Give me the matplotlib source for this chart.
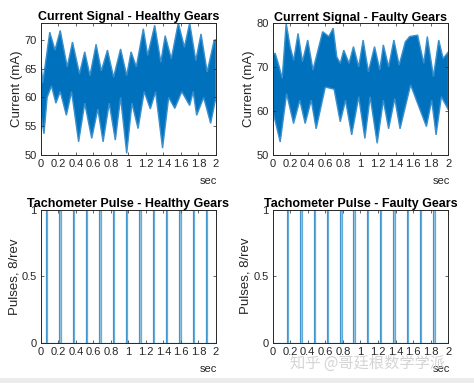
import numpy as np
import matplotlib
matplotlib.use("Agg")
import matplotlib.pyplot as plt
from matplotlib.patches import Rectangle

plt.rcParams['font.family'] = ['Liberation Sans', 'DejaVu Sans']

# Current signal envelopes (time in s, current in mA)
healthy_up_t = [0.0, 0.02, 0.10, 0.16, 0.22, 0.30, 0.36, 0.44, 0.50, 0.56, 0.63, 0.69,
                0.76, 0.83, 0.91, 0.98, 1.03, 1.09, 1.17, 1.22, 1.30, 1.37, 1.42, 1.49,
                1.57, 1.64, 1.70, 1.77, 1.83, 1.90, 1.98, 2.0]
healthy_up = [66.0, 62.5, 71.3, 68.2, 71.6, 65.3, 69.6, 64.1, 67.9, 63.8, 69.2, 64.6,
              68.2, 63.5, 68.4, 63.8, 67.9, 65.3, 71.9, 67.3, 72.5, 66.1, 70.7, 66.7,
              72.9, 68.7, 72.9, 66.4, 71.0, 64.4, 69.9, 70.0]
healthy_lo_t = [0.0, 0.034, 0.07, 0.12, 0.17, 0.22, 0.29, 0.35, 0.43, 0.50, 0.58, 0.65,
                0.71, 0.78, 0.85, 0.91, 0.98, 1.04, 1.11, 1.18, 1.25, 1.31, 1.39, 1.46,
                1.53, 1.61, 1.70, 1.74, 1.78, 1.86, 1.94, 2.0]
healthy_lo = [57.0, 53.7, 60.0, 62.0, 59.0, 61.0, 56.9, 61.0, 52.3, 59.0, 52.9, 58.0,
              52.3, 59.0, 52.6, 60.0, 50.3, 59.0, 54.6, 61.0, 58.0, 61.0, 51.2, 60.0,
              58.1, 61.0, 58.6, 61.0, 56.9, 60.0, 55.5, 60.0]

faulty_up_t = [0.0, 0.03, 0.07, 0.11, 0.155, 0.20, 0.24, 0.29, 0.34, 0.40, 0.46, 0.57,
               0.64, 0.69, 0.73, 0.77, 0.81, 0.87, 0.92, 0.98, 1.03, 1.09, 1.16, 1.22,
               1.26, 1.32, 1.38, 1.44, 1.51, 1.56, 1.65, 1.72, 1.76, 1.83, 1.89, 1.94, 2.0]
faulty_up = [72.8, 73.2, 70.5, 67.5, 80.0, 74.7, 71.6, 77.7, 71.3, 76.2, 69.4, 78.1,
             77.0, 78.9, 72.4, 70.9, 73.9, 70.9, 74.7, 70.1, 76.2, 69.0, 74.7, 69.4,
             75.1, 70.1, 76.2, 70.5, 75.8, 77.0, 77.3, 70.9, 77.0, 67.9, 76.2, 72.0, 73.5]
faulty_lo_t = [0.0, 0.087, 0.16, 0.239, 0.31, 0.371, 0.44, 0.496, 0.60, 0.70, 0.77, 0.83,
               0.90, 0.98, 1.05, 1.11, 1.19, 1.26, 1.32, 1.39, 1.45, 1.57, 1.75, 1.81,
               1.86, 1.92, 2.0]
faulty_lo = [60.3, 53.0, 64.0, 57.2, 62.5, 57.2, 62.5, 56.0, 65.5, 65.0, 57.6, 62.5,
             54.6, 63.3, 53.8, 63.3, 52.7, 62.5, 56.0, 62.9, 56.0, 66.0, 56.5, 62.5,
             54.6, 63.3, 60.3]

# Tachometer pulse start times (s)
healthy_pulses = [0.057, 0.209, 0.362, 0.514, 0.666, 0.819, 0.971, 1.124, 1.276,
                  1.428, 1.581, 1.733, 1.886]
faulty_pulses = [0.163, 0.314, 0.466, 0.617, 0.769, 0.920, 1.072, 1.223, 1.375,
                 1.526, 1.678, 1.829]
pulse_width = 0.016

xticks = [0, 0.2, 0.4, 0.6, 0.8, 1, 1.2, 1.4, 1.6, 1.8, 2]
xticklabels = ['0', '0.2', '0.4', '0.6', '0.8', '1', '1.2', '1.4', '1.6', '1.8', '2']

blue = '#0072BD'
dark = '#262626'

fig = plt.figure(figsize=(4.74, 3.83), dpi=100)
fig.patch.set_facecolor('white')

positions = [[0.0865, 0.595, 0.369, 0.345],
             [0.575, 0.595, 0.371, 0.344],
             [0.0865, 0.105, 0.369, 0.347],
             [0.575, 0.105, 0.371, 0.348]]
axes = [fig.add_axes(p) for p in positions]


def style(ax, title, ylabel):
    ax.set_xlim(0, 2)
    ax.set_xticks(xticks)
    ax.set_xticklabels(xticklabels)
    ax.tick_params(direction='in', length=2.5, width=0.5, colors=dark,
                   labelsize=8, pad=3, top=True, right=True)
    for s in ax.spines.values():
        s.set_linewidth(0.7)
        s.set_color(dark)
    ax.set_title(title, fontsize=9, fontweight='bold', pad=2)
    ax.set_ylabel(ylabel, fontsize=9.5, color=dark, labelpad=1)
    ax.set_xlabel('sec', fontsize=8, color=dark)
    ax.xaxis.set_label_coords(0.96, -0.16)


def draw_current(ax, ut, u, lt, l):
    xs = np.concatenate([ut, lt[::-1]])
    ys = np.concatenate([u, l[::-1]])
    ax.fill(xs, ys, fc=blue, lw=1.0, ec='#3a8fcc')


def draw_pulses(ax, starts):
    starts = np.asarray(starts)
    x = np.concatenate([[0], np.column_stack([starts, starts, starts + pulse_width,
                                              starts + pulse_width]).ravel(), [2]])
    y = np.concatenate([[0], np.tile([0, 1, 1, 0], len(starts)), [0]])
    ax.fill_between(x, 0, y, color=blue, alpha=0.35, lw=0)
    ax.plot(x, y, color=blue, lw=0.9, alpha=0.6)


ax = axes[0]
draw_current(ax, np.array(healthy_up_t), np.array(healthy_up),
             np.array(healthy_lo_t), np.array(healthy_lo))
ax.set_ylim(50, 72.9)
ax.set_yticks([50, 55, 60, 65, 70])
style(ax, 'Current Signal - Healthy Gears', 'Current (mA)')

ax = axes[1]
draw_current(ax, np.array(faulty_up_t), np.array(faulty_up),
             np.array(faulty_lo_t), np.array(faulty_lo))
ax.set_ylim(50, 80)
ax.set_yticks([50, 60, 70, 80])
style(ax, 'Current Signal - Faulty Gears', 'Current (mA)')

ax = axes[2]
draw_pulses(ax, healthy_pulses)
ax.set_ylim(0, 1)
ax.set_yticks([0, 0.5, 1])
ax.set_yticklabels(['0', '0.5', '1'])
style(ax, 'Tachometer Pulse - Healthy Gears', 'Pulses, 8/rev')

ax = axes[3]
draw_pulses(ax, faulty_pulses)
ax.set_ylim(0, 1)
ax.set_yticks([0, 0.5, 1])
ax.set_yticklabels(['0', '0.5', '1'])
style(ax, 'Tachometer Pulse - Faulty Gears', 'Pulses, 8/rev')

# watermark and bottom strip
fig.text(0.775, 0.052, '知乎 @哥廷根数学学派', fontsize=11, color='#d0d0d0', alpha=0.9,
         ha='center', va='center', family=['Noto Sans CJK SC', 'DejaVu Sans'])
fig.add_artist(Rectangle((0, 0), 1, 0.014, transform=fig.transFigure,
                         color='#ececec', lw=0))

fig.savefig('out.png', dpi=100)
